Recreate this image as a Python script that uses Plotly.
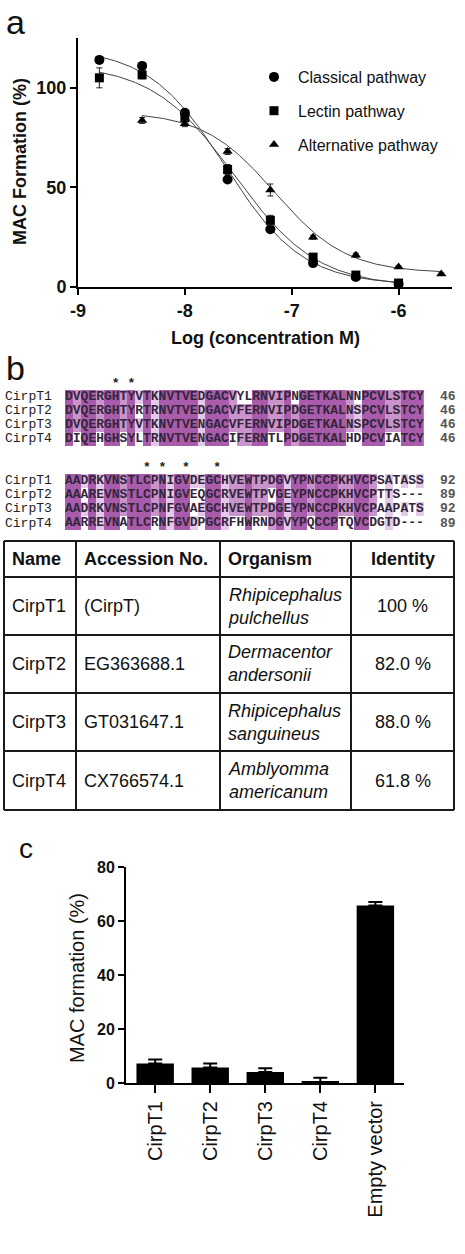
import numpy as np
import plotly.graph_objects as go

W, H = 465, 1254
FONT = "Liberation Sans, Arial, sans-serif"
MONO = "Liberation Mono, Courier New, monospace"

# ---------------- panel a : MAC formation vs concentration ----------------
log_conc = [-8.8, -8.4, -8.0, -7.6, -7.2, -6.8, -6.4, -6.0]
classical = [114, 111, 87.5, 54, 29, 12, 5, 1.5]
classical_err = [1.0, 1.5, 1.5, 1.5, 1.5, 1.0, 1.0, 0.5]
lectin = [105, 106.5, 85, 59, 33.5, 15, 6, 2]
lectin_err = [5.0, 2.0, 2.0, 2.5, 2.5, 1.5, 1.0, 0.5]
alt_conc = [-8.4, -8.0, -7.6, -7.2, -6.8, -6.4, -6.0, -5.6]
alternative = [83.6, 82, 68, 48.7, 25, 16, 10, 6.5]
alternative_err = [1.5, 1.5, 1.5, 3.0, 1.0, 1.0, 0.5, 0.5]

# fitted sigmoid parameters: top, bottom, logIC50, hill
fit_classical = [120, 1, -7.62, 1.2]
fit_lectin = [112, 0, -7.535, 1.12]
fit_alternative = [88, 7, -7.158, 1.3]

a_xticks = [-9, -8, -7, -6]
a_xticklabels = ["-9", "-8", "-7", "-6"]
a_yticks = [0, 50, 100]

# ---------------- panel b : alignment + table ----------------
seq_names = ["CirpT1", "CirpT2", "CirpT3", "CirpT4"]
block1 = [
    "DVQERGHTYVTKNVTVEDGACVYLRNVIPNGETKALNNPCVLSTCY",
    "DVQERGHTYRTRNVTVEDGACVFERNVIPDGETKALNSPCVLSTCY",
    "DVQERGHTYVTKNVTVENGACVFERNVIPDGETKALNSPCVLSTCY",
    "DIQEHGHSYLTRNVTVENGACIFERNTLPDGETKALHDPCVIATCY",
]
block2 = [
    "AADRKVNSTLCPNIGVDEGCHVEWTPDGVYPNCCPKHVCPSATASS",
    "AAAREVNSTLCPNIGVEQGCRVEWTPVGEYPNCCPKHVCPTTS---",
    "AADRKVNSTLCPNFGVAEGCHVEWTPDGEYPNCCPKHVCPAAPATS",
    "AARREVNATLCRNFGVDPGCRFHWRNDGVYPQCCPTQVCDGTD---",
]
block1_ends = [46, 46, 46, 46]
block2_ends = [92, 89, 92, 89]
block1_stars = [6, 8]
block2_stars = [10, 12, 15, 19]

table_header = ["Name", "Accession No.", "Organism", "Identity"]
accessions = ["(CirpT)", "EG363688.1", "GT031647.1", "CX766574.1"]
organisms = ["Rhipicephalus pulchellus", "Dermacentor andersonii",
             "Rhipicephalus sanguineus", "Amblyomma americanum"]
identities = ["100 %", "82.0 %", "88.0 %", "61.8 %"]

# ---------------- panel c : homologue screen ----------------
constructs = ["CirpT1", "CirpT2", "CirpT3", "CirpT4", "Empty vector"]
mac_formation = [7.2, 5.7, 4.1, 0.4, 65.7]
mac_err = [1.5, 1.5, 1.4, 1.5, 1.3]
c_yticks = [0, 20, 40, 60, 80]


def px_x(x):
    return x / W


def px_y(y):
    return 1 - y / H


fig = go.Figure()

# ---- panel a traces ----
series = [
    ("Classical pathway", log_conc, classical, classical_err, fit_classical, "circle", 10),
    ("Lectin pathway", log_conc, lectin, lectin_err, fit_lectin, "square", 9),
    ("Alternative pathway", alt_conc, alternative, alternative_err, fit_alternative, "triangle-up", 9),
]
for name, xs, ys, errs, fit, sym, size in series:
    top, bottom, ic50, hill = fit
    xf = np.linspace(xs[0], xs[-1], 200)
    yf = bottom + (top - bottom) / (1 + 10 ** ((xf - ic50) * hill))
    fig.add_trace(go.Scatter(x=xf, y=yf, mode="lines", line=dict(color="#444", width=1),
                             showlegend=False, hoverinfo="skip"))
    fig.add_trace(go.Scatter(
        x=xs, y=ys, mode="markers", name=name, legendgroup=name,
        marker=dict(symbol=sym, size=size, color="black"),
        error_y=dict(type="data", array=errs, color="#222", thickness=1, width=3),
    ))

# ---- panel b alignment ----
def identity_levels(block):
    ncol = len(block[0])
    levels = [[0] * ncol for _ in block]
    for c in range(ncol):
        col = [s[c] for s in block]
        counts = {a: col.count(a) for a in set(col) if a != "-"}
        best = max(counts.values())
        for r, a in enumerate(col):
            if a != "-" and counts[a] == best and best >= 2:
                levels[r][c] = best - 1
    return levels


ncol = len(block1[0])
z = identity_levels(block1) + [[None] * ncol, [None] * ncol] + identity_levels(block2)
row_idx = list(range(len(z)))
fig.add_trace(go.Heatmap(
    z=z, x=list(range(ncol)), y=row_idx, xaxis="x2", yaxis="y2",
    zmin=-0.5, zmax=3.5, showscale=False, hoverinfo="skip",
    colorscale=[[0, "rgba(255,255,255,0)"], [0.25, "rgba(255,255,255,0)"],
                [0.25, "#E4C8EA"], [0.5, "#E4C8EA"],
                [0.5, "#C993CC"], [0.75, "#C993CC"],
                [0.75, "#A95CAB"], [1, "#A95CAB"]],
))

tx, ty, tt = [], [], []
for offset, block in [(0, block1), (6, block2)]:
    for r, s in enumerate(block):
        for c, ch in enumerate(s):
            tx.append(c)
            ty.append(offset + r)
            tt.append(ch)
fig.add_trace(go.Scatter(
    x=tx, y=ty, text=tt, mode="text", xaxis="x2", yaxis="y2",
    textfont=dict(family=MONO, size=13, color="#33263a", weight="bold"),
    showlegend=False, hoverinfo="skip",
))
sx = block1_stars + block2_stars
sy = [-0.95] * len(block1_stars) + [5.05] * len(block2_stars)
fig.add_trace(go.Scatter(
    x=sx, y=sy, text=["*"] * len(sx), mode="text", xaxis="x2", yaxis="y2",
    textfont=dict(family=MONO, size=13, color="#222", weight="bold"),
    showlegend=False, hoverinfo="skip", cliponaxis=False,
))

annotations = []
for offset, ends in [(0, block1_ends), (6, block2_ends)]:
    for r, name in enumerate(seq_names):
        annotations.append(dict(x=px_x(3), y=offset + r, yref="y2",
                                text=name, font=dict(family=MONO, size=13, color="#222")))
        annotations.append(dict(x=px_x(448), y=offset + r, yref="y2", xanchor="center",
                                text=str(ends[r]),
                                font=dict(family=MONO, size=13, color="#555", weight="bold")))

# ---- panel b table ----
col_widths = [72, 144, 131, 103]
row_heights = [36, 58, 58, 58, 59]
t_left, t_top = 4, 541
col_edges = [t_left + sum(col_widths[:i]) for i in range(len(col_widths) + 1)]
row_edges = [t_top + sum(row_heights[:i]) for i in range(len(row_heights) + 1)]
shapes = []
for xe in col_edges:
    shapes.append(dict(type="line", xref="paper", yref="paper", x0=px_x(xe), x1=px_x(xe),
                       y0=px_y(row_edges[0]), y1=px_y(row_edges[-1]),
                       line=dict(color="#1a1a1a", width=2)))
for ye in row_edges:
    shapes.append(dict(type="line", xref="paper", yref="paper", x0=px_x(col_edges[0]),
                       x1=px_x(col_edges[-1]), y0=px_y(ye), y1=px_y(ye),
                       line=dict(color="#1a1a1a", width=2)))

rows = [table_header] + [
    [n, a, "<i>" + o.replace(" ", "<br>") + "</i>", i]
    for n, a, o, i in zip(seq_names, accessions, organisms, identities)
]
for ri, row in enumerate(rows):
    yc = (row_edges[ri] + row_edges[ri + 1]) / 2
    for ci, txt in enumerate(row):
        if ci == 3:
            xa, xpos = "center", (col_edges[ci] + col_edges[ci + 1]) / 2
        else:
            xa, xpos = "left", col_edges[ci] + 6
        annotations.append(dict(
            x=px_x(xpos), y=px_y(yc), xanchor=xa,
            text=f"<b>{txt}</b>" if ri == 0 else txt, align="left",
            font=dict(family=FONT, size=18, color="#111"),
        ))

# ---- panel c traces ----
fig.add_trace(go.Bar(
    x=constructs, y=mac_formation, xaxis="x4", yaxis="y4", width=0.68,
    marker=dict(color="black", line=dict(width=0)), showlegend=False,
    error_y=dict(type="data", array=mac_err, arrayminus=[0, 0, 0, 0, 0], symmetric=False,
                 color="black", thickness=2, width=7),
))

# ---- labels / titles ----
annotations += [
    dict(x=px_x(4), y=px_y(22), text="a", font=dict(family=FONT, size=34, color="#111")),
    dict(x=px_x(4), y=px_y(368), text="b", font=dict(family=FONT, size=34, color="#111")),
    dict(x=px_x(17), y=px_y(848), text="c", font=dict(family=FONT, size=28, color="#111")),
    dict(x=px_x(265), y=px_y(338), xanchor="center", text="<b>Log (concentration M)</b>",
         font=dict(family=FONT, size=18, color="#111")),
    dict(x=px_x(20), y=px_y(162), xanchor="center", textangle=-90, text="<b>MAC Formation (%)</b>",
         font=dict(family=FONT, size=18, color="#111")),
    dict(x=px_x(77), y=px_y(978), xanchor="center", textangle=-90, text="MAC formation (%)",
         font=dict(family=FONT, size=20, color="#111")),
]
for ann in annotations:
    ann.setdefault("xref", "paper")
    ann.setdefault("yref", "paper")
    ann.setdefault("showarrow", False)
    ann.setdefault("xanchor", "left")
    ann.setdefault("yanchor", "middle")

axis_style = dict(showline=True, linecolor="black", linewidth=2, ticks="outside",
                  tickcolor="black", tickwidth=2, showgrid=False, zeroline=False,
                  automargin=False)

fig.update_layout(
    width=W, height=H, margin=dict(l=0, r=0, t=0, b=0, autoexpand=False),
    paper_bgcolor="white", plot_bgcolor="white",
    font=dict(family=FONT, color="#111"),
    xaxis=dict(domain=[px_x(78), px_x(452)], range=[-9, -5.5], tickvals=a_xticks,
               ticktext=a_xticklabels, ticklen=6, anchor="y",
               tickfont=dict(size=18, weight="bold"), **axis_style),
    yaxis=dict(domain=[px_y(287), px_y(38)], range=[0, 125], tickvals=a_yticks, ticklen=6,
               anchor="x", tickfont=dict(size=18, weight="bold"), **axis_style),
    xaxis2=dict(domain=[px_x(65), px_x(65 + 46 * 7.8)], range=[-0.5, 45.5], visible=False,
                anchor="y2", automargin=False),
    yaxis2=dict(domain=[px_y(530), px_y(376)], range=[9.5, -1.5], visible=False,
                anchor="x2", automargin=False),
    xaxis4=dict(domain=[px_x(126), px_x(404)], range=[-0.53, 4.52], anchor="y4", ticklen=8,
                tickangle=-90, tickfont=dict(size=20), categoryorder="array",
                categoryarray=constructs, **axis_style),
    yaxis4=dict(domain=[px_y(1083), px_y(867)], range=[0, 80], tickvals=c_yticks, ticklen=6,
                anchor="x4", tickfont=dict(size=16, weight="bold"), **axis_style),
    legend=dict(x=px_x(250), y=px_y(60), xanchor="left", yanchor="top", tracegroupgap=10,
                itemwidth=38, font=dict(family=FONT, size=16, color="#111"),
                bgcolor="rgba(0,0,0,0)"),
    shapes=shapes, annotations=annotations, showlegend=True,
)

fig.write_html("out.html", config={"displayModeBar": False},
               post_script="document.body.style.margin = '0';")
